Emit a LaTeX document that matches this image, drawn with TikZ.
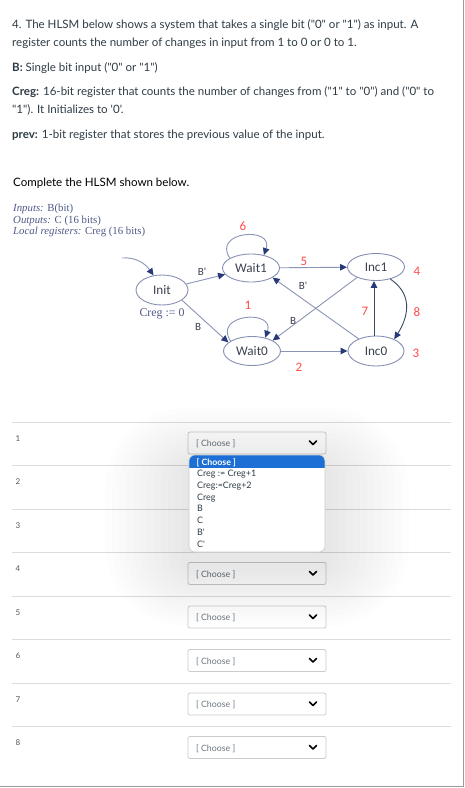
\documentclass[tikz,border=0pt]{standalone}
\usepackage{fontspec}
\newfontfamily\lato{Lato}
\newfontfamily\carl{Carlito}
\newfontfamily\tms{Liberation Serif}
\usetikzlibrary{arrows.meta,shapes.geometric}
\definecolor{txt}{HTML}{2D3B45}
\definecolor{ell}{HTML}{8690B4}
\definecolor{lin}{HTML}{8A94B6}
\definecolor{head}{HTML}{27397A}
\definecolor{dark}{HTML}{3A4662}
\definecolor{stt}{HTML}{3C4150}
\definecolor{rednum}{HTML}{FF4A4A}
\definecolor{regtxt}{HTML}{505A88}
\definecolor{tline}{HTML}{DCDCDC}
\definecolor{numtxt}{HTML}{555555}
\definecolor{choose}{HTML}{6B7780}
\definecolor{boxln}{HTML}{C9CCCE}
\definecolor{hl}{HTML}{1D6FD6}
\definecolor{frame}{HTML}{9A9A9A}
\newlength\wtmp
\newcommand\calib[4]{\settowidth\wtmp{#2\fontsize{10}{10}\selectfont #4}\pgfmathsetmacro#1{10*#3/\wtmp}}
\begin{document}
\calib{\qsz}{\lato}{406}{4. The HLSM below shows a system that takes a single bit ("0" or "1") as input. A}%
\calib{\csz}{\lato}{176}{Complete the HLSM shown below.}%
\calib{\rsz}{\tms}{132}{\itshape Local registers: \upshape Creg (16 bits)}%
\calib{\zsz}{\tms}{45}{Creg := 0}%
\calib{\ssz}{\carl}{31.7}{Wait1}%
\calib{\isz}{\lato}{59}{Creg := Creg+1}%
\calib{\hsz}{\lato}{39}{[ Choose ]}%
\begin{tikzpicture}[x=1pt,y=-1pt,
  para/.style={anchor=base west,inner sep=0,text=txt,font=\lato\fontsize{\qsz}{12}\selectfont},
  reg/.style={anchor=base west,inner sep=0,text=regtxt,font=\tms\fontsize{\rsz}{11}\selectfont},
  st/.style={ellipse,draw=ell,line width=0.9pt,inner sep=0,text=stt,font=\carl\fontsize{\ssz}{12}\selectfont},
  ar/.style={draw=lin,line width=0.9pt,-{Triangle[length=7pt,width=6.5pt,color=head]}},
  dar/.style={draw=dark,line width=0.9pt,-{Triangle[length=7pt,width=6.5pt,color=head]}},
  rnum/.style={inner sep=0,text=rednum,font=\carl\fontsize{13}{13}\selectfont},
  blab/.style={inner sep=0,text=stt,font=\carl\fontsize{11}{11}\selectfont},
  rownum/.style={anchor=base west,inner sep=0,text=numtxt,font=\lato\fontsize{8}{9}\selectfont},
  selbox/.style={draw=boxln,fill=white,line width=0.8pt,rounded corners=2pt},
  choosetxt/.style={anchor=base west,inner sep=0,text=choose,font=\lato\fontsize{\hsz}{9}\selectfont},
  item/.style={anchor=base west,inner sep=0,text=txt,font=\lato\fontsize{\isz}{9}\selectfont},
  chev/.style={draw=black,line width=1.7pt,line cap=round,line join=round}]
\useasboundingbox (0,0) rectangle (465,788);
\fill[white] (0,0) rectangle (465,788);
\draw[frame,line width=1.2pt] (463.4,0) -- (463.4,786.4) -- (0,786.4);

% question text
\node[para] (q1) at (12,28.3) {4. The HLSM below shows a system that takes a single bit ("0" or "1") as input. A};
\node[para] (q2) at (12,46) {register counts the number of changes in input from 1 to 0 or 0 to 1.};
\node[para] (q3) at (12,71.7) {{\bfseries B:} Single bit input ("0" or "1")};
\node[para] (q4) at (12,95.7) {{\bfseries Creg:} 16-bit register that counts the number of changes from ("1" to "0") and ("0" to};
\node[para] (q5) at (12,113.3) {"1"). It Initializes to '0'.};
\node[para] (q6) at (12,138.3) {{\bfseries prev:} 1-bit register that stores the previous value of the input.};
\node[anchor=base west,inner sep=0,text=black,font=\lato\fontsize{\csz}{14}\selectfont] (q7) at (13,186.5) {Complete the HLSM shown below.};

\node[reg] (r1) at (13,211.5) {\itshape Inputs: \upshape B(bit)};
\node[reg] (r2) at (13,223) {\itshape Outputs: \upshape C (16 bits)};
\node[reg] (r3) at (13,234) {\itshape Local registers: \upshape Creg (16 bits)};

% HLSM
\node[st,minimum width=52,minimum height=30] (init) at (162,290) {Init};
\node[st,minimum width=57,minimum height=28] (wait1) at (251,268) {Wait1};
\node[st,minimum width=57,minimum height=29] (wait0) at (252,351) {Wait0};
\node[st,minimum width=57,minimum height=27] (inc1) at (376,267) {Inc1};
\node[st,minimum width=56,minimum height=30] (inc0) at (376,351) {Inc0};
\node[inner sep=0,text=regtxt,font=\tms\fontsize{\zsz}{10}\selectfont] (cregz) at (162,314) {Creg := 0};

\coordinate (s0) at (122,258);
\draw[ar] (s0) to[out=5,in=125] (init.120);
\draw[ar] (init) -- (wait1);
\draw[ar] (init.-27) -- (wait0.160);
\draw[ar] (wait1.155) .. controls +(-18,-27) and +(10,-29) .. (wait1.45);
\draw[ar] (wait0.155) .. controls +(-18,-27) and +(10,-29) .. (wait0.45);
\draw[ar] (wait1) -- (inc1);
\draw[ar] (wait0) -- (inc0);
\draw[ar] (inc0.145) -- (wait1.-24);
\draw[ar] (inc1.209) -- (wait0.27);
\draw[dar] ([xshift=-2pt]inc0.north) -- ([xshift=-2pt]inc1.south);
\draw[dar] (inc1.-40) .. controls +(25,17) and +(12,-19) .. (inc0.33);

\node[blab] (lb1) at (202,272) {B'};
\node[blab] (lb2) at (198,327) {B};
\node[blab] (lb3) at (303,286) {B'};
\node[blab] (lb4) at (293,321) {B};
\node[rnum] (n6) at (243,226) {6};
\node[rnum] (n1) at (248,305) {1};
\node[rnum] (n5) at (304,261) {5};
\node[rnum] (n2) at (299,367) {2};
\node[rnum] (n7) at (365,311) {7};
\node[rnum] (n8) at (417,312) {8};
\node[rnum] (n4) at (417,271) {4};
\node[rnum] (n3) at (416,353) {3};

% table
\foreach \k in {0,...,7} {
  \draw[tline,line width=1pt] (12,422+43.5*\k) -- (451,422+43.5*\k);
}
\foreach \k in {1,...,8} {
  \node[rownum] (row\k) at (15.5,441+43.5*\k-43.5) {\k};
}
\foreach \k in {1,4,5,6,7,8} {
  \draw[selbox] (188,432+43.5*\k-43.5) rectangle (326,454+43.5*\k-43.5);
  \node[choosetxt] (ch\k) at (196,446.5+43.5*\k-43.5) {[ Choose ]};
  \draw[chev] (309.5,441+43.5*\k-43.5) -- (313,444.5+43.5*\k-43.5) -- (316.5,441+43.5*\k-43.5);
}

% shadow of dropdown list
\foreach \i in {1,...,12} {
  \fill[black,opacity=0.009,rounded corners=8pt+6pt*\i] (189-7*\i,468-5*\i) rectangle (325+7*\i,566+5*\i);
}

% dropdown list
\fill[white,rounded corners=6pt] (189,455) rectangle (325,552);
\begin{scope}
  \clip[rounded corners=6pt] (189,455) rectangle (325,552);
  \fill[hl] (189,455) rectangle (325,468);
\end{scope}
\draw[draw=boxln,line width=0.6pt,rounded corners=6pt] (189,455) rectangle (325,552);
\node[anchor=base west,inner sep=0,text=white,font=\lato\fontsize{\hsz}{9}\selectfont\bfseries] (o0) at (196.5,465) {[ Choose ]};
\node[item] (o1) at (197,476.5) {Creg := Creg+1};
\node[item] (o2) at (197,488.3) {Creg:=Creg+2};
\node[item] (o3) at (197,500) {Creg};
\node[item] (o4) at (197,511.8) {B};
\node[item] (o5) at (197,523.5) {C};
\node[item] (o6) at (197,535.3) {B'};
\node[item] (o7) at (197,547) {C'};
\end{tikzpicture}
\end{document}
